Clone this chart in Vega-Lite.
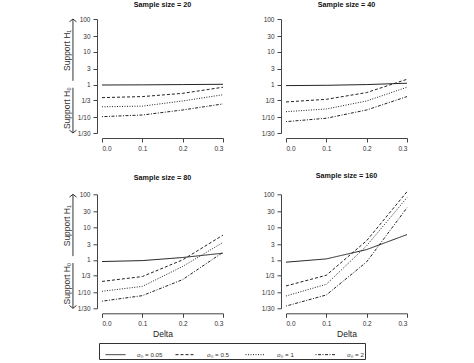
{
  "$schema": "https://vega.github.io/schema/vega-lite/v6.json",
  "padding": {"left": 62, "top": 1, "right": 0, "bottom": 0},
  "background": "white",
  "datasets": {
    "bf": [
      {"n": 20, "delta": 0.0, "sigma": "σ₀ = 0.05", "bf": 0.97},
      {"n": 20, "delta": 0.1, "sigma": "σ₀ = 0.05", "bf": 0.98},
      {"n": 20, "delta": 0.2, "sigma": "σ₀ = 0.05", "bf": 1.0},
      {"n": 20, "delta": 0.3, "sigma": "σ₀ = 0.05", "bf": 1.02},
      {"n": 20, "delta": 0.0, "sigma": "σ₀ = 0.5", "bf": 0.4},
      {"n": 20, "delta": 0.1, "sigma": "σ₀ = 0.5", "bf": 0.43},
      {"n": 20, "delta": 0.2, "sigma": "σ₀ = 0.5", "bf": 0.54},
      {"n": 20, "delta": 0.3, "sigma": "σ₀ = 0.5", "bf": 0.83},
      {"n": 20, "delta": 0.0, "sigma": "σ₀ = 1", "bf": 0.21},
      {"n": 20, "delta": 0.1, "sigma": "σ₀ = 1", "bf": 0.22},
      {"n": 20, "delta": 0.2, "sigma": "σ₀ = 1", "bf": 0.316},
      {"n": 20, "delta": 0.3, "sigma": "σ₀ = 1", "bf": 0.49},
      {"n": 20, "delta": 0.0, "sigma": "σ₀ = 2", "bf": 0.105},
      {"n": 20, "delta": 0.1, "sigma": "σ₀ = 2", "bf": 0.118},
      {"n": 20, "delta": 0.2, "sigma": "σ₀ = 2", "bf": 0.168},
      {"n": 20, "delta": 0.3, "sigma": "σ₀ = 2", "bf": 0.257},
      {"n": 40, "delta": 0.0, "sigma": "σ₀ = 0.05", "bf": 0.93},
      {"n": 40, "delta": 0.1, "sigma": "σ₀ = 0.05", "bf": 0.95},
      {"n": 40, "delta": 0.2, "sigma": "σ₀ = 0.05", "bf": 1.0},
      {"n": 40, "delta": 0.3, "sigma": "σ₀ = 0.05", "bf": 1.1},
      {"n": 40, "delta": 0.0, "sigma": "σ₀ = 0.5", "bf": 0.295},
      {"n": 40, "delta": 0.1, "sigma": "σ₀ = 0.5", "bf": 0.355},
      {"n": 40, "delta": 0.2, "sigma": "σ₀ = 0.5", "bf": 0.57},
      {"n": 40, "delta": 0.3, "sigma": "σ₀ = 0.5", "bf": 1.45},
      {"n": 40, "delta": 0.0, "sigma": "σ₀ = 1", "bf": 0.149},
      {"n": 40, "delta": 0.1, "sigma": "σ₀ = 1", "bf": 0.18},
      {"n": 40, "delta": 0.2, "sigma": "σ₀ = 1", "bf": 0.316},
      {"n": 40, "delta": 0.3, "sigma": "σ₀ = 1", "bf": 0.83},
      {"n": 40, "delta": 0.0, "sigma": "σ₀ = 2", "bf": 0.074},
      {"n": 40, "delta": 0.1, "sigma": "σ₀ = 2", "bf": 0.094},
      {"n": 40, "delta": 0.2, "sigma": "σ₀ = 2", "bf": 0.168},
      {"n": 40, "delta": 0.3, "sigma": "σ₀ = 2", "bf": 0.43},
      {"n": 80, "delta": 0.0, "sigma": "σ₀ = 0.05", "bf": 0.89},
      {"n": 80, "delta": 0.1, "sigma": "σ₀ = 0.05", "bf": 0.95},
      {"n": 80, "delta": 0.2, "sigma": "σ₀ = 0.05", "bf": 1.18},
      {"n": 80, "delta": 0.3, "sigma": "σ₀ = 0.05", "bf": 1.6},
      {"n": 80, "delta": 0.0, "sigma": "σ₀ = 0.5", "bf": 0.22},
      {"n": 80, "delta": 0.1, "sigma": "σ₀ = 0.5", "bf": 0.31},
      {"n": 80, "delta": 0.2, "sigma": "σ₀ = 0.5", "bf": 1.0},
      {"n": 80, "delta": 0.3, "sigma": "σ₀ = 0.5", "bf": 5.7},
      {"n": 80, "delta": 0.0, "sigma": "σ₀ = 1", "bf": 0.11},
      {"n": 80, "delta": 0.1, "sigma": "σ₀ = 1", "bf": 0.155},
      {"n": 80, "delta": 0.2, "sigma": "σ₀ = 1", "bf": 0.63},
      {"n": 80, "delta": 0.3, "sigma": "σ₀ = 1", "bf": 3.4},
      {"n": 80, "delta": 0.0, "sigma": "σ₀ = 2", "bf": 0.055},
      {"n": 80, "delta": 0.1, "sigma": "σ₀ = 2", "bf": 0.081},
      {"n": 80, "delta": 0.2, "sigma": "σ₀ = 2", "bf": 0.25},
      {"n": 80, "delta": 0.3, "sigma": "σ₀ = 2", "bf": 1.7},
      {"n": 160, "delta": 0.0, "sigma": "σ₀ = 0.05", "bf": 0.85},
      {"n": 160, "delta": 0.1, "sigma": "σ₀ = 0.05", "bf": 1.07},
      {"n": 160, "delta": 0.2, "sigma": "σ₀ = 0.05", "bf": 2.06},
      {"n": 160, "delta": 0.3, "sigma": "σ₀ = 0.05", "bf": 5.9},
      {"n": 160, "delta": 0.0, "sigma": "σ₀ = 0.5", "bf": 0.16},
      {"n": 160, "delta": 0.1, "sigma": "σ₀ = 0.5", "bf": 0.34},
      {"n": 160, "delta": 0.2, "sigma": "σ₀ = 0.5", "bf": 3.85},
      {"n": 160, "delta": 0.3, "sigma": "σ₀ = 0.5", "bf": 120},
      {"n": 160, "delta": 0.0, "sigma": "σ₀ = 1", "bf": 0.079},
      {"n": 160, "delta": 0.1, "sigma": "σ₀ = 1", "bf": 0.18},
      {"n": 160, "delta": 0.2, "sigma": "σ₀ = 1", "bf": 2.7},
      {"n": 160, "delta": 0.3, "sigma": "σ₀ = 1", "bf": 79},
      {"n": 160, "delta": 0.0, "sigma": "σ₀ = 2", "bf": 0.039},
      {"n": 160, "delta": 0.1, "sigma": "σ₀ = 2", "bf": 0.085},
      {"n": 160, "delta": 0.2, "sigma": "σ₀ = 2", "bf": 0.87},
      {"n": 160, "delta": 0.3, "sigma": "σ₀ = 2", "bf": 39}
    ]
  },
  "bounds": "flush",
  "columns": 2,
  "spacing": {"row": 61.3, "column": 63},
  "concat": [
    {
      "width": 121, "height": 114,
      "title": {"text": "Sample size = 20", "offset": 7.5},
      "layer": [
        {
          "data": {"name": "bf"},
          "transform": [{"filter": "datum.n == 20"}],
          "mark": {"type": "line", "color": "#222", "strokeWidth": 1, "clip": false},
          "encoding": {
            "x": {"field": "delta", "type": "quantitative", "scale": {"domain": [0, 0.3], "nice": false, "zero": false}, "axis": {"values": [0, 0.1, 0.2, 0.3], "format": ".1f", "title": null}},
            "y": {"field": "bf", "type": "quantitative", "scale": {"type": "log", "domain": [0.0333333, 100], "nice": false}, "axis": {"values": [0.0333333, 0.1, 0.3333333, 1, 3, 10, 30, 100], "labelExpr": "datum.value >= 1 ? format(datum.value, 'd') : '1/' + format(1 / datum.value, '.0f')", "title": null}},
            "strokeDash": {"field": "sigma", "type": "nominal", "scale": {"domain": ["σ₀ = 0.05", "σ₀ = 0.5", "σ₀ = 1", "σ₀ = 2"], "range": [[1, 0], [3, 2], [1, 1.5], [1, 1.5, 3, 1.5]]},
              "legend": {"orient": "none", "legendX": -3, "legendY": 324, "direction": "horizontal", "columns": 4, "gridAlign": "all", "title": null, "strokeColor": "#333", "padding": 1, "symbolOffset": 5, "symbolType": "stroke", "symbolSize": 400, "symbolStrokeWidth": 1, "symbolStrokeColor": "#222", "labelFontSize": 6.2, "labelOffset": 11, "columnPadding": 7, "labelFont": "Liberation Sans", "labelColor": "#333"}}
          }
        },
        {
          "data": {"values": [{}]},
          "mark": {"type": "text", "angle": 270, "fontSize": 8.5, "font": "Liberation Sans", "color": "#333"},
          "encoding": {"x": {"datum": -0.087, "type": "quantitative"}, "y": {"datum": 11, "type": "quantitative"}, "text": {"value": "Support H₁"}}
        },
        {
          "data": {"values": [{}]},
          "mark": {"type": "text", "angle": 270, "fontSize": 8.5, "font": "Liberation Sans", "color": "#333"},
          "encoding": {"x": {"datum": -0.087, "type": "quantitative"}, "y": {"datum": 0.19, "type": "quantitative"}, "text": {"value": "Support H₀"}}
        },
        {
          "data": {"values": [{}]},
          "mark": {"type": "rule", "color": "#333", "strokeWidth": 1},
          "encoding": {"x": {"datum": -0.072, "type": "quantitative"}, "y": {"datum": 1.3, "type": "quantitative"}, "y2": {"datum": 100}}
        },
        {
          "data": {"values": [{}]},
          "mark": {"type": "rule", "color": "#333", "strokeWidth": 1},
          "encoding": {"x": {"datum": -0.072, "type": "quantitative"}, "y": {"datum": 0.8, "type": "quantitative"}, "y2": {"datum": 0.0333333}}
        },
        {
          "data": {"values": [{}]},
          "mark": {"type": "point", "shape": "M-1,0.8L0,0L1,0.8", "filled": false, "size": 50, "color": "#333", "strokeWidth": 1, "opacity": 1},
          "encoding": {"x": {"datum": -0.072, "type": "quantitative"}, "y": {"datum": 100, "type": "quantitative"}}
        },
        {
          "data": {"values": [{}]},
          "mark": {"type": "point", "shape": "M-1,-0.8L0,0L1,-0.8", "filled": false, "size": 50, "color": "#333", "strokeWidth": 1, "opacity": 1},
          "encoding": {"x": {"datum": -0.072, "type": "quantitative"}, "y": {"datum": 0.0333333, "type": "quantitative"}}
        }
      ]
    },
    {
      "width": 121, "height": 114,
      "title": {"text": "Sample size = 40", "offset": 7.5},
      "data": {"name": "bf"},
      "transform": [{"filter": "datum.n == 40"}],
      "mark": {"type": "line", "color": "#222", "strokeWidth": 1, "clip": false},
      "encoding": {
        "x": {"field": "delta", "type": "quantitative", "scale": {"domain": [0, 0.3], "nice": false, "zero": false}, "axis": {"values": [0, 0.1, 0.2, 0.3], "format": ".1f", "title": null}},
        "y": {"field": "bf", "type": "quantitative", "scale": {"type": "log", "domain": [0.0333333, 100], "nice": false}, "axis": {"values": [0.0333333, 0.1, 0.3333333, 1, 3, 10, 30, 100], "labelExpr": "datum.value >= 1 ? format(datum.value, 'd') : '1/' + format(1 / datum.value, '.0f')", "title": null}},
        "strokeDash": {"field": "sigma", "type": "nominal", "scale": {"domain": ["σ₀ = 0.05", "σ₀ = 0.5", "σ₀ = 1", "σ₀ = 2"], "range": [[1, 0], [3, 2], [1, 1.5], [1, 1.5, 3, 1.5]]}}
      }
    },
    {
      "width": 121, "height": 114,
      "title": {"text": "Sample size = 80", "offset": 10.3},
      "layer": [
        {
          "data": {"name": "bf"},
          "transform": [{"filter": "datum.n == 80"}],
          "mark": {"type": "line", "color": "#222", "strokeWidth": 1, "clip": false},
          "encoding": {
            "x": {"field": "delta", "type": "quantitative", "scale": {"domain": [0, 0.3], "nice": false, "zero": false}, "axis": {"values": [0, 0.1, 0.2, 0.3], "format": ".1f", "title": "Delta"}},
            "y": {"field": "bf", "type": "quantitative", "scale": {"type": "log", "domain": [0.0333333, 100], "nice": false}, "axis": {"values": [0.0333333, 0.1, 0.3333333, 1, 3, 10, 30, 100], "labelExpr": "datum.value >= 1 ? format(datum.value, 'd') : '1/' + format(1 / datum.value, '.0f')", "title": null}},
            "strokeDash": {"field": "sigma", "type": "nominal", "scale": {"domain": ["σ₀ = 0.05", "σ₀ = 0.5", "σ₀ = 1", "σ₀ = 2"], "range": [[1, 0], [3, 2], [1, 1.5], [1, 1.5, 3, 1.5]]}}
          }
        },
        {
          "data": {"values": [{}]},
          "mark": {"type": "text", "angle": 270, "fontSize": 8.5, "font": "Liberation Sans", "color": "#333"},
          "encoding": {"x": {"datum": -0.087, "type": "quantitative"}, "y": {"datum": 11, "type": "quantitative"}, "text": {"value": "Support H₁"}}
        },
        {
          "data": {"values": [{}]},
          "mark": {"type": "text", "angle": 270, "fontSize": 8.5, "font": "Liberation Sans", "color": "#333"},
          "encoding": {"x": {"datum": -0.087, "type": "quantitative"}, "y": {"datum": 0.19, "type": "quantitative"}, "text": {"value": "Support H₀"}}
        },
        {
          "data": {"values": [{}]},
          "mark": {"type": "rule", "color": "#333", "strokeWidth": 1},
          "encoding": {"x": {"datum": -0.072, "type": "quantitative"}, "y": {"datum": 1.3, "type": "quantitative"}, "y2": {"datum": 100}}
        },
        {
          "data": {"values": [{}]},
          "mark": {"type": "rule", "color": "#333", "strokeWidth": 1},
          "encoding": {"x": {"datum": -0.072, "type": "quantitative"}, "y": {"datum": 0.8, "type": "quantitative"}, "y2": {"datum": 0.0333333}}
        },
        {
          "data": {"values": [{}]},
          "mark": {"type": "point", "shape": "M-1,0.8L0,0L1,0.8", "filled": false, "size": 50, "color": "#333", "strokeWidth": 1, "opacity": 1},
          "encoding": {"x": {"datum": -0.072, "type": "quantitative"}, "y": {"datum": 100, "type": "quantitative"}}
        },
        {
          "data": {"values": [{}]},
          "mark": {"type": "point", "shape": "M-1,-0.8L0,0L1,-0.8", "filled": false, "size": 50, "color": "#333", "strokeWidth": 1, "opacity": 1},
          "encoding": {"x": {"datum": -0.072, "type": "quantitative"}, "y": {"datum": 0.0333333, "type": "quantitative"}}
        }
      ]
    },
    {
      "width": 121, "height": 114,
      "title": {"text": "Sample size = 160", "offset": 10.3},
      "data": {"name": "bf"},
      "transform": [{"filter": "datum.n == 160"}],
      "mark": {"type": "line", "color": "#222", "strokeWidth": 1, "clip": false},
      "encoding": {
        "x": {"field": "delta", "type": "quantitative", "scale": {"domain": [0, 0.3], "nice": false, "zero": false}, "axis": {"values": [0, 0.1, 0.2, 0.3], "format": ".1f", "title": "Delta"}},
        "y": {"field": "bf", "type": "quantitative", "scale": {"type": "log", "domain": [0.0333333, 100], "nice": false}, "axis": {"values": [0.0333333, 0.1, 0.3333333, 1, 3, 10, 30, 100], "labelExpr": "datum.value >= 1 ? format(datum.value, 'd') : '1/' + format(1 / datum.value, '.0f')", "title": null}},
        "strokeDash": {"field": "sigma", "type": "nominal", "scale": {"domain": ["σ₀ = 0.05", "σ₀ = 0.5", "σ₀ = 1", "σ₀ = 2"], "range": [[1, 0], [3, 2], [1, 1.5], [1, 1.5, 3, 1.5]]}}
      }
    }
  ],
  "config": {
    "view": {"stroke": null},
    "axis": {"grid": false, "domainColor": "#444", "tickColor": "#444", "labelColor": "#333", "labelFontSize": 6.5, "labelFont": "Liberation Sans", "tickSize": 4, "offset": 5, "labelPadding": 3, "titleFont": "Liberation Sans", "titleFontSize": 8.5, "titleFontWeight": "normal", "titleColor": "#222", "titlePadding": 3},
    "axisY": {"labelAngle": 0},
    "title": {"fontSize": 7.2, "font": "Liberation Sans", "fontWeight": "bold", "color": "#111"}
  }
}
